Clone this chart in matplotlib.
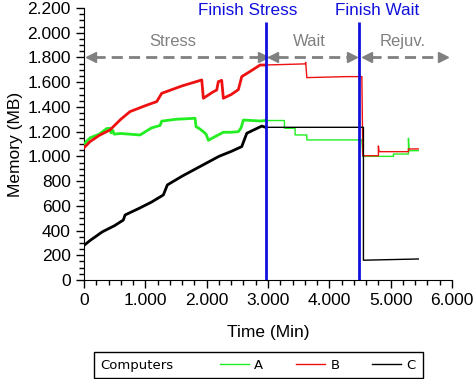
import numpy as np
import matplotlib
matplotlib.use("Agg")
import matplotlib.pyplot as plt
from matplotlib.ticker import MultipleLocator, FuncFormatter
from matplotlib.offsetbox import HPacker

plt.rcParams['font.family'] = ['Liberation Sans', 'DejaVu Sans']

# ---- data (time in minutes, memory in MB) ----
time_a = [0, 100, 250, 370, 424, 440, 470, 490, 600, 914, 1100, 1240, 1267, 1500, 1811, 1827,
          1880, 1946, 1990, 2028, 2100, 2272, 2400, 2517, 2560, 2599, 2871, 2960,
          3268, 3268, 3442, 3442, 3633, 3633, 4530, 4546, 5046, 5046, 5290, 5290, 5300, 5450]
mem_a = [1100, 1150, 1180, 1225, 1227, 1190, 1210, 1180, 1185, 1173, 1230, 1250, 1285, 1300, 1308, 1240,
         1225, 1200, 1180, 1130, 1150, 1195, 1195, 1200, 1230, 1294, 1286, 1290,
         1290, 1227, 1227, 1173, 1173, 1133, 1133, 1000, 1000, 1019, 1019, 1146, 1046, 1046]

time_b = [0, 100, 250, 424, 600, 750, 1000, 1186, 1267, 1600, 1920, 1946, 2100, 2164, 2190, 2245,
          2272, 2400, 2517, 2572, 2750, 2871, 2960,
          3605, 3615, 3633, 4285, 4530, 4546, 4800, 4800, 4810, 5290, 5290, 5450]
mem_b = [1070, 1120, 1170, 1214, 1300, 1362, 1410, 1443, 1510, 1570, 1618, 1470, 1520, 1537, 1604, 1615,
         1470, 1500, 1540, 1645, 1700, 1739, 1739,
         1748, 1760, 1637, 1645, 1645, 1005, 1005, 1084, 1038, 1038, 1060, 1060]

time_c = [0, 100, 300, 500, 641, 670, 900, 1100, 1294, 1359, 1600, 1900, 2200, 2400, 2572, 2654,
          2899, 2960, 4556, 4556, 5000, 5450]
mem_c = [280, 320, 390, 440, 485, 526, 580, 630, 688, 769, 840, 920, 1000, 1040, 1079, 1187,
         1245, 1235, 1235, 160, 165, 170]

series_names = ['A', 'B', 'C']
series_colors = ['#22ee22', '#ee1111', '#000000']

finish_stress = 2964
finish_wait = 4491
phase_names = ['Stress', 'Wait', 'Rejuv.']
phase_start = [110, 3085, 4610]
phase_end = [2920, 4367, 5860]
phase_label_x = [1447, 3670, 5200]
arrow_y = 1800

# ---- figure ----
fig = plt.figure(figsize=(4.74, 3.79), dpi=100)
ax = fig.add_axes([84/474, 1-280/379, (452-84)/474, (280-8)/379])

series = [(time_a, mem_a), (time_b, mem_b), (time_c, mem_c)]
handles = []
for (t, m), name, col in zip(series, series_names, series_colors):
    t = np.array(t); m = np.array(m)
    stress = t <= finish_stress
    ax.plot(t[stress], m[stress], color=col, lw=2.0, zorder=3)
    k = stress.sum() - 1
    h, = ax.plot(t[k:], m[k:], color=col, lw=1.0, zorder=3, label=name)
    handles.append(h)

# phase lines
ax.vlines([finish_stress, finish_wait], 0, 2090, color='#1010dd', lw=2, zorder=4)
ax.text(finish_stress - 300, 2176, 'Finish Stress', color='#1010dd', fontsize=12.3,
        ha='center', va='center', clip_on=False)
ax.text(finish_wait + 285, 2176, 'Finish Wait', color='#1010dd', fontsize=12.3,
        ha='center', va='center', clip_on=False)

# phase arrows
gray = '#808080'
for name, s, e, lx in zip(phase_names, phase_start, phase_end, phase_label_x):
    ax.plot([s + 60, e - 60], [arrow_y, arrow_y], color=gray, lw=2, dashes=(4, 2.2), zorder=2)
    ax.plot([s], [arrow_y], marker='<', color=gray, ms=7, zorder=2)
    ax.plot([e], [arrow_y], marker='>', color=gray, ms=7, zorder=2)
    ax.text(lx, 1930, name, color=gray, fontsize=12, ha='center', va='center')

# axes styling
ax.set_xlim(0, 6000)
ax.set_ylim(0, 2200)
for s in ['top', 'right']:
    ax.spines[s].set_visible(False)
ax.xaxis.set_major_locator(MultipleLocator(1000))
ax.xaxis.set_minor_locator(MultipleLocator(200))
ax.yaxis.set_major_locator(MultipleLocator(200))
ax.yaxis.set_minor_locator(MultipleLocator(50))
fmt = FuncFormatter(lambda v, p: f"{int(round(v)):,}".replace(',', '.'))
ax.xaxis.set_major_formatter(fmt)
ax.yaxis.set_major_formatter(fmt)
ax.tick_params(which='major', direction='out', length=6, width=1, labelsize=12.5)
ax.tick_params(which='minor', direction='out', length=3.5, width=1)
ax.set_xlabel('Time (Min)', fontsize=12.5, labelpad=12)
ax.set_ylabel('Memory (MB)', fontsize=12.5, labelpad=3)

# legend
leg = fig.legend(handles=handles, labels=series_names, ncol=3, title='Computers',
                 loc='upper left', bbox_to_anchor=(94/474, 1-352/379),
                 bbox_transform=fig.transFigure, borderaxespad=0,
                 fancybox=False, framealpha=1, edgecolor='black',
                 prop={'family': 'DejaVu Sans', 'size': 9.5},
                 title_fontproperties={'family': 'DejaVu Sans', 'size': 9.5},
                 handlelength=2.2, handletextpad=0.4, columnspacing=2.5, borderpad=0.5)
leg.get_frame().set_linewidth(1.0)
try:
    vbox = leg._legend_box
    title_box = leg._legend_title_box
    hbox = leg._legend_handle_box
    hp = HPacker(pad=0, sep=33, children=[title_box, hbox], align='center')
    hp.set_figure(fig)
    vbox._children = [hp]
except Exception:
    pass

fig.savefig('out.png', dpi=100)
